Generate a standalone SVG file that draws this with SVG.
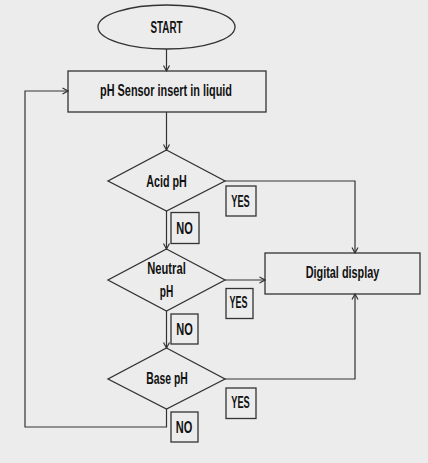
<svg xmlns="http://www.w3.org/2000/svg" width="428" height="463" viewBox="0 0 428 463">
<style>
.shape{fill:none;stroke:#333;stroke-width:1.3}
.c{fill:none;stroke:#333;stroke-width:1.2}
.t{font-family:"Liberation Sans",Arial,sans-serif;font-weight:bold;font-size:16px;fill:#111;text-anchor:middle}
</style>
<defs>
<marker id="ah" markerWidth="8" markerHeight="8" refX="7" refY="4" orient="auto" markerUnits="userSpaceOnUse">
<path d="M1.5,1 L7,4 L1.5,7" fill="none" stroke="#333" stroke-width="1.2"/>
</marker>
</defs>
<rect width="428" height="463" fill="#ececec"/>
<g id="connectors">
<path class="c" d="M166.5,49 V71" marker-end="url(#ah)"/>
<path class="c" d="M166.5,112 V150" marker-end="url(#ah)"/>
<path class="c" d="M166.5,211 V249" marker-end="url(#ah)"/>
<path class="c" d="M166.5,311 V348" marker-end="url(#ah)"/>
<path class="c" d="M225,181 H355 V253" marker-end="url(#ah)"/>
<path class="c" d="M225,280 H265" stroke-width="2" marker-end="url(#ah)"/>
<path class="c" d="M225,379 H355 V294" marker-end="url(#ah)"/>
<path class="c" d="M166.5,409 V427 H25 V91 H68" marker-end="url(#ah)"/>
</g>
<g id="start">
<ellipse class="shape" cx="166.5" cy="27" rx="68.5" ry="22"/>
<text class="t" x="166.5" y="33.3" textLength="32" lengthAdjust="spacingAndGlyphs">START</text>
</g>
<g id="sensor">
<rect class="shape" x="68" y="71" width="198" height="41"/>
<text class="t" x="166" y="96.3" textLength="132" lengthAdjust="spacingAndGlyphs">pH Sensor insert in liquid</text>
</g>
<g id="acid">
<polygon class="shape" points="166.5,150 225,181 166.5,211 108,181"/>
<text class="t" x="166.5" y="186.5" textLength="40.5" lengthAdjust="spacingAndGlyphs">Acid pH</text>
</g>
<g id="neutral">
<polygon class="shape" points="166.5,249 225,280 166.5,311 108,280"/>
<text class="t" x="166.5" y="274" textLength="38.5" lengthAdjust="spacingAndGlyphs">Neutral</text>
<text class="t" x="166.5" y="296.5" textLength="13.5" lengthAdjust="spacingAndGlyphs">pH</text>
</g>
<g id="base">
<polygon class="shape" points="166.5,348 225,379 166.5,409 108,379"/>
<text class="t" x="167" y="384.3" textLength="41.5" lengthAdjust="spacingAndGlyphs">Base pH</text>
</g>
<g id="display">
<rect class="shape" x="265" y="253" width="155" height="41"/>
<text class="t" x="342.5" y="278.3" textLength="73.5" lengthAdjust="spacingAndGlyphs">Digital display</text>
</g>
<g id="yes-acid">
<rect class="shape" x="226" y="186" width="30" height="30"/>
<text class="t" x="240.5" y="206.6" textLength="18.5" lengthAdjust="spacingAndGlyphs">YES</text>
</g>
<g id="no-acid">
<rect class="shape" x="171" y="212.5" width="28" height="31"/>
<text class="t" x="184.5" y="234.3" textLength="16.5" lengthAdjust="spacingAndGlyphs">NO</text>
</g>
<g id="yes-neutral">
<rect class="shape" x="226" y="288.5" width="27" height="30"/>
<text class="t" x="238.5" y="308.3" textLength="18" lengthAdjust="spacingAndGlyphs">YES</text>
</g>
<g id="no-neutral">
<rect class="shape" x="171" y="314" width="27" height="30"/>
<text class="t" x="184.5" y="335" textLength="16.5" lengthAdjust="spacingAndGlyphs">NO</text>
</g>
<g id="yes-base">
<rect class="shape" x="226" y="388" width="30" height="30.5"/>
<text class="t" x="240.5" y="408.3" textLength="18.5" lengthAdjust="spacingAndGlyphs">YES</text>
</g>
<g id="no-base">
<rect class="shape" x="171" y="412" width="27" height="30"/>
<text class="t" x="184" y="432.8" textLength="16.5" lengthAdjust="spacingAndGlyphs">NO</text>
</g>
</svg>
